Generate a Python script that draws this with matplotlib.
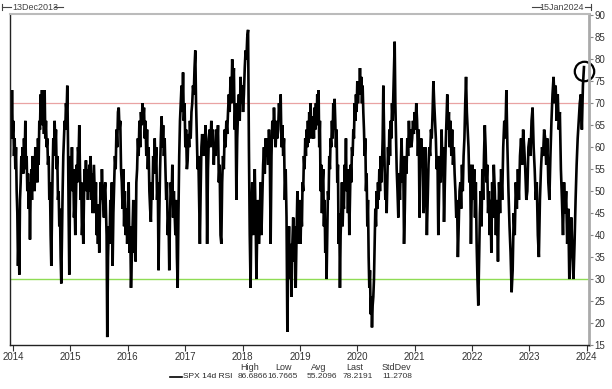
import numpy as np
import pandas as pd
import matplotlib
matplotlib.use("Agg")
import matplotlib.pyplot as plt
from matplotlib.lines import Line2D

plt.rcParams['font.family'] = ['Liberation Sans', 'DejaVu Sans']

# ---- data (SPX 14d RSI) ----
seg_bounds = ["2013-12-13", "2015-08-24", "2017-04-24", "2019-01-01",
              "2020-09-08", "2022-05-19", "2023-12-14"]

rsi_seg1 = [58, 72, 62, 73, 63, 66, 58, 62, 55, 60, 50, 45, 33, 40, 31, 48,
            52, 58, 55, 60, 54, 62, 57, 66, 55, 58, 50, 54, 46, 52, 39, 50,
            55, 48, 58, 52, 56, 50, 60, 54, 58, 52, 62, 56, 66, 64, 72,
            66, 73, 65, 70, 63, 73, 62, 66, 60, 62, 56, 58, 48, 52, 40, 33,
            45, 55, 62, 58, 66, 60, 64, 55, 58, 48, 50, 42, 46, 35, 29, 40,
            50, 58, 62, 66, 64, 70, 68, 74, 62, 45, 31, 48,
            58, 52, 60, 50, 55, 44, 47, 40, 48, 56, 52, 60, 58, 65,
            55, 48, 52, 40, 44, 38, 48, 55, 51, 57, 50, 55, 48, 53,
            56, 50, 58, 48, 54, 45, 51, 56, 50, 45, 52, 40, 47, 38, 44, 36,
            45, 52, 48, 55, 50, 47, 44, 50, 52, 46, 40, 16.8]
rsi_seg2 = [35, 42, 38, 48, 40, 52, 33, 45, 52, 58, 55, 64, 60, 68, 69, 64,
            66, 55, 52, 46, 55, 42, 50, 40, 46, 38, 44, 52, 36, 42, 28, 35,
            42, 48, 36, 45, 34, 52, 55, 62, 58, 66, 60, 68, 65, 70, 66, 69,
            62, 66, 58, 64, 55, 60, 50, 46, 43, 52, 48, 58, 54, 62,
            55, 60, 48, 52, 32, 45, 55, 62, 67, 60, 65, 58, 62,
            55, 48, 52, 40, 45, 32, 45, 52, 48, 56, 44, 50, 45, 40, 48, 35, 28,
            45, 58, 66, 70, 74, 68, 77, 66, 70, 60, 64, 55, 57,
            63, 60, 66, 62, 68, 70, 74, 72, 78, 82, 70, 62, 55, 58, 48, 38,
            50, 60, 63, 58]
rsi_seg3 = [63, 58, 65, 60, 38, 55, 62, 64, 60, 66, 62, 64, 56, 61,
            58, 64, 60, 65, 52, 56, 40, 38, 52, 58, 55, 64, 60, 66, 63, 68,
            72, 68, 76, 70, 80, 74, 78, 64, 70, 48, 62,
            68, 72, 66, 76, 70, 74, 68, 72, 78, 82, 80, 85, 86.7, 60, 40, 28,
            45, 52, 40, 48, 55, 44, 30, 42, 48, 38, 44, 52, 40, 48,
            56, 60, 54, 62, 58, 62, 56, 64, 58, 38,
            58, 66, 62, 69, 64, 60, 66, 62, 64, 70, 66, 72, 60, 65,
            58, 62, 48, 55, 44, 18, 35, 42, 30, 38, 26,
            38, 44, 34, 42, 28, 40, 50, 38, 44, 48]
rsi_seg4 = [38, 46, 42, 52, 50, 58, 55, 62, 58, 64, 60, 66, 61, 68, 62, 70,
            64, 67, 62, 66, 62, 69, 64, 70, 65, 72, 66, 73, 60, 66, 50, 56,
            45, 52, 55, 42, 48, 36, 42, 30, 40, 50, 48, 58, 55, 62, 60, 66,
            62, 70, 64, 71, 66, 60, 64, 52, 56, 38, 45, 28, 40, 45, 52, 42,
            48, 46, 56, 52, 62, 50, 55, 45, 54, 40, 48, 56, 52, 60,
            58, 64, 62, 70, 66, 72, 68, 75, 70, 74, 72, 78, 72, 76, 70, 74, 68,
            64, 58, 62, 50, 54, 42, 48, 35, 28, 32, 22, 26, 19, 24, 26, 30,
            38, 46, 42, 50, 46, 52, 48, 55, 50, 58, 52, 56, 62, 74, 64,
            55, 48, 52, 45, 52, 60, 56, 64, 58, 66, 62, 70, 66,
            72, 78, 84, 70, 62, 55]
rsi_seg5 = [50, 44, 54, 48, 56, 62, 52, 58, 38, 46, 58, 54, 62, 58, 66, 60,
            64, 60, 62, 66, 63, 68, 64, 70, 66, 58, 64, 44, 55, 62, 56, 60,
            45, 52, 60, 52, 40, 48, 56, 60, 58, 64, 62, 68, 75, 70, 66, 62,
            55, 58, 40, 50, 58, 52, 64, 56, 60, 43, 52, 60, 66, 72, 64, 68,
            60, 66, 58, 64, 56, 60, 54, 50, 44, 48, 35, 42, 50, 52, 46, 56,
            50, 58, 62, 70, 76, 68, 64, 60, 52, 56, 38, 50, 56, 48, 55, 44,
            52, 38, 30, 24, 35, 45, 50, 42, 55, 48, 58, 65, 60, 52, 56,
            45, 50, 40, 48, 36, 52, 44, 56]
rsi_seg6 = [50, 40, 48, 34, 52, 45, 55, 48, 60, 66, 62, 73,
            60, 50, 42, 36, 27, 32, 45, 40, 52, 46, 55, 48,
            58, 62, 56, 64, 60, 55, 48, 50, 60, 62, 58, 66, 69, 60,
            55, 48, 52, 40, 35, 48, 55, 60, 58, 64, 62, 56, 62, 52,
            48, 58, 66, 72, 76, 70, 74, 66, 72, 64, 68,
            55, 48, 40, 52, 45, 50, 38, 46, 30, 40, 44, 35, 30, 38,
            48, 56, 62, 66, 70, 72, 64, 74, 78.2191]

segments = [rsi_seg1, rsi_seg2, rsi_seg3, rsi_seg4, rsi_seg5, rsi_seg6]

stats_labels = ["High", "Low", "Avg", "Last", "StdDev"]
stats_values = ["86.6866", "16.7665", "55.2096", "78.2191", "11.2708"]
series_name = "SPX 14d RSI"
start_label = "13Dec2013"
end_label = "15Jan2024"
axis_end = "2024-01-15"
overbought = 70
oversold = 30

# ---- build series positions ----
dates = []
values = []
for i, seg in enumerate(segments):
    s = pd.Timestamp(seg_bounds[i])
    e = pd.Timestamp(seg_bounds[i + 1])
    n = len(seg)
    if i == 0:
        d = pd.date_range(s, e, periods=n)
    else:
        d = pd.date_range(s, e, periods=n + 1)[1:]
    dates.extend(list(d))
    values.extend(seg)

W, H = 612, 389
fig = plt.figure(figsize=(W / 100, H / 100), dpi=100)
ax = fig.add_axes([10 / W, 1 - 345 / H, 579 / W, 331 / H])

ax.plot(dates, values, color='black', lw=1.9, solid_joinstyle='miter')
ax.axhline(overbought, color='#e9a3a3', lw=0.9, zorder=0)
ax.axhline(oversold, color='#8fdc55', lw=1.0, zorder=0)

# circle around last point
ax.plot(dates[-1], 77.3, marker='o', ms=14, mfc='none', mec='black', mew=1.6,
        clip_on=False)

ax.set_xlim(pd.Timestamp(seg_bounds[0]), pd.Timestamp(axis_end))
ax.set_ylim(15, 90.3)

years = [pd.Timestamp(f"{y}-01-01") for y in range(2014, 2025)]
ax.set_xticks(years)
ax.set_xticklabels([str(y) for y in range(2014, 2025)])
ax.yaxis.tick_right()
ax.set_yticks(list(range(15, 91, 5)))
ax.tick_params(axis='y', direction='out', length=3, width=0.8, colors='#888888',
               labelcolor='#333333', labelsize=7, pad=1)
ax.tick_params(axis='x', direction='out', length=4, width=0.8, colors='#333333',
               labelcolor='#333333', labelsize=7, pad=1)

for side in ['left', 'bottom']:
    ax.spines[side].set_color('#222222')
    ax.spines[side].set_linewidth(1.0)
ax.spines['right'].set_color('#aaaaaa')
ax.spines['right'].set_linewidth(2.0)
ax.spines['top'].set_color('#bbbbbb')
ax.spines['top'].set_linewidth(1.5)

# top date labels
fig.text(12 / W, 1 - 7 / H, start_label, fontsize=6.5, color='#444444',
         va='center', ha='left')
fig.add_artist(Line2D([2 / W, 11 / W], [1 - 7 / H, 1 - 7 / H], color='#444444', lw=0.8))
fig.add_artist(Line2D([2 / W, 2 / W], [1 - 4 / H, 1 - 10 / H], color='#444444', lw=0.8))
fig.add_artist(Line2D([54 / W, 63 / W], [1 - 7 / H, 1 - 7 / H], color='#444444', lw=0.8))
fig.text(584 / W, 1 - 7 / H, end_label, fontsize=6.5, color='#444444',
         va='center', ha='right')
fig.add_artist(Line2D([532 / W, 541 / W], [1 - 7 / H, 1 - 7 / H], color='#444444', lw=0.8))
fig.add_artist(Line2D([585 / W, 591 / W], [1 - 7 / H, 1 - 7 / H], color='#444444', lw=0.8))
fig.add_artist(Line2D([591 / W, 591 / W], [1 - 4 / H, 1 - 10 / H], color='#444444', lw=0.8))

# legend / stats block
hy = 1 - 367 / H
vy = 1 - 377 / H
fig.add_artist(Line2D([170 / W, 182 / W], [vy, vy], color='black', lw=1.2))
fig.text(183 / W, vy, series_name, fontsize=6.0, color='#222222', va='center', ha='left')
hx = [250, 284, 319, 355, 396]
vx = [253, 283, 322, 358, 397]
for lab, x in zip(stats_labels, hx):
    fig.text(x / W, hy, lab, fontsize=6.5, color='#333333', va='center', ha='center')
for val, x in zip(stats_values, vx):
    fig.text(x / W, vy, val, fontsize=6.0, color='#333333', va='center', ha='center')

fig.savefig("out.png", dpi=100)
